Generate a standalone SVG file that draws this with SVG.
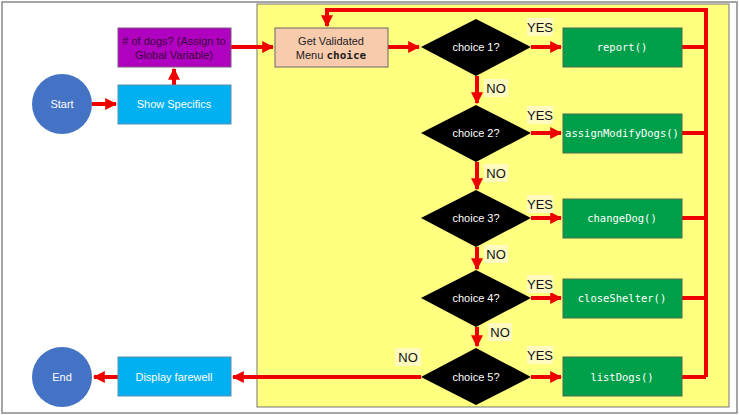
<svg xmlns="http://www.w3.org/2000/svg" width="739" height="415" viewBox="0 0 739 415">
<defs>
<marker id="ah" viewBox="0 0 10 10" refX="9" refY="5" markerWidth="3" markerHeight="3" orient="auto"><path d="M0,0L10,5L0,10z" fill="#ee0000"/></marker>
<style>
.t{font-family:"Liberation Sans",Arial,sans-serif;font-size:11px;text-anchor:middle;dominant-baseline:central}
.w{fill:#fff}
.m{font-family:"DejaVu Sans Mono","Liberation Mono",monospace;font-size:10.5px;fill:#fff;text-anchor:middle;dominant-baseline:central}
.c{stroke:#ee0000;stroke-width:4;fill:none}
.a{marker-end:url(#ah)}
.g{fill:#00a04a;stroke:#4a6a4a;stroke-width:1}
.d{fill:#000}
.lb{fill:#fffbc0}
.l{font-family:"Liberation Sans",Arial,sans-serif;font-size:13px;text-anchor:middle;dominant-baseline:central;fill:#111}
</style>
</defs>
<rect x="0" y="0" width="739" height="415" fill="#fff"/>
<rect x="2" y="2" width="735" height="411" fill="#fff" stroke="#888" stroke-width="1.5"/>
<rect x="257" y="4" width="472" height="403" fill="#ffff80" stroke="#777" stroke-width="1"/>
<g id="connectors">
<path class="c a" d="M92,104H116"/>
<path class="c a" d="M174,85V69"/>
<path class="c a" d="M231,47H273"/>
<path class="c a" d="M388,47H419"/>
<path class="c a" d="M531,47H561"/>
<path class="c a" d="M531,133H561"/>
<path class="c a" d="M531,218H561"/>
<path class="c a" d="M531,298H561"/>
<path class="c a" d="M531,377H561"/>
<path class="c a" d="M477,76V103"/>
<path class="c a" d="M477,162V189"/>
<path class="c a" d="M477,247V269"/>
<path class="c a" d="M477,327V346"/>
<path class="c" d="M682,47H706M682,133H706M682,218H706M682,298H706M682,377H706"/>
<path class="c a" d="M706,377V10H327V26"/>
<path class="c a" d="M421,377H233"/>
<path class="c a" d="M118,377H94"/>
</g>
<g id="start"><circle cx="62" cy="104" r="30" fill="#4472c4"/><text class="t w" x="62" y="104">Start</text></g>
<g id="end"><circle cx="62" cy="377" r="30" fill="#4472c4"/><text class="t w" x="62" y="377">End</text></g>
<g id="show"><rect x="118" y="85" width="113" height="39" fill="#00b0f0" stroke="#5a8fb0"/><text class="t w" x="174" y="104">Show Specifics</text></g>
<g id="dogs"><rect x="118" y="28" width="113" height="39" fill="#b000c0" stroke="#7a5a80"/><text class="t" x="174" y="41" fill="#3a003a">#  of dogs? (Assign to</text><text class="t" x="174" y="55" fill="#3a003a">Global Variable)</text></g>
<g id="farewell"><rect x="118" y="357" width="113" height="39" fill="#00b0f0" stroke="#5a8fb0"/><text class="t w" x="174" y="377">Display farewell</text></g>
<g id="getchoice"><rect x="275" y="28" width="113" height="39" fill="#f8cbad" stroke="#666"/><text class="t" x="331" y="41" fill="#222">Get Validated</text><text class="t" x="331" y="55" fill="#222">Menu <tspan font-family="DejaVu Sans Mono,monospace" font-weight="bold">choice</tspan></text></g>
<g id="c1"><path class="d" d="M421,47L476,19L531,47L476,76z"/><text class="t w" x="476" y="47">choice 1?</text></g>
<g id="c2"><path class="d" d="M421,133L476,105L531,133L476,162z"/><text class="t w" x="476" y="133">choice 2?</text></g>
<g id="c3"><path class="d" d="M421,218L476,190L531,218L476,247z"/><text class="t w" x="476" y="218">choice 3?</text></g>
<g id="c4"><path class="d" d="M421,298L476,270L531,298L476,327z"/><text class="t w" x="476" y="298">choice 4?</text></g>
<g id="c5"><path class="d" d="M421,377L476,348L531,377L476,405z"/><text class="t w" x="476" y="377">choice 5?</text></g>
<g id="report"><rect class="g" x="563" y="28" width="119" height="39"/><text class="m" x="622" y="47">report()</text></g>
<g id="assign"><rect class="g" x="563" y="114" width="119" height="39"/><text class="m" x="622" y="133">assignModifyDogs()</text></g>
<g id="change"><rect class="g" x="563" y="199" width="119" height="39"/><text class="m" x="622" y="218">changeDog()</text></g>
<g id="close"><rect class="g" x="563" y="279" width="119" height="39"/><text class="m" x="622" y="298">closeShelter()</text></g>
<g id="list"><rect class="g" x="563" y="357" width="119" height="39"/><text class="m" x="622" y="377">listDogs()</text></g>
<g id="labels">
<rect class="lb" x="527" y="18" width="26" height="18"/><text class="l" x="540" y="27">YES</text>
<rect class="lb" x="527" y="106" width="26" height="18"/><text class="l" x="540" y="115">YES</text>
<rect class="lb" x="527" y="195" width="26" height="18"/><text class="l" x="540" y="204">YES</text>
<rect class="lb" x="527" y="275" width="26" height="18"/><text class="l" x="540" y="284">YES</text>
<rect class="lb" x="527" y="346" width="26" height="18"/><text class="l" x="540" y="355">YES</text>
<rect class="lb" x="484" y="79" width="24" height="18"/><text class="l" x="496" y="88">NO</text>
<rect class="lb" x="484" y="164" width="24" height="18"/><text class="l" x="496" y="173">NO</text>
<rect class="lb" x="484" y="245" width="24" height="18"/><text class="l" x="496" y="254">NO</text>
<rect class="lb" x="488" y="323" width="24" height="18"/><text class="l" x="500" y="332">NO</text>
<rect class="lb" x="395" y="348" width="26" height="18"/><text class="l" x="408" y="357">NO</text>
</g>
</svg>
